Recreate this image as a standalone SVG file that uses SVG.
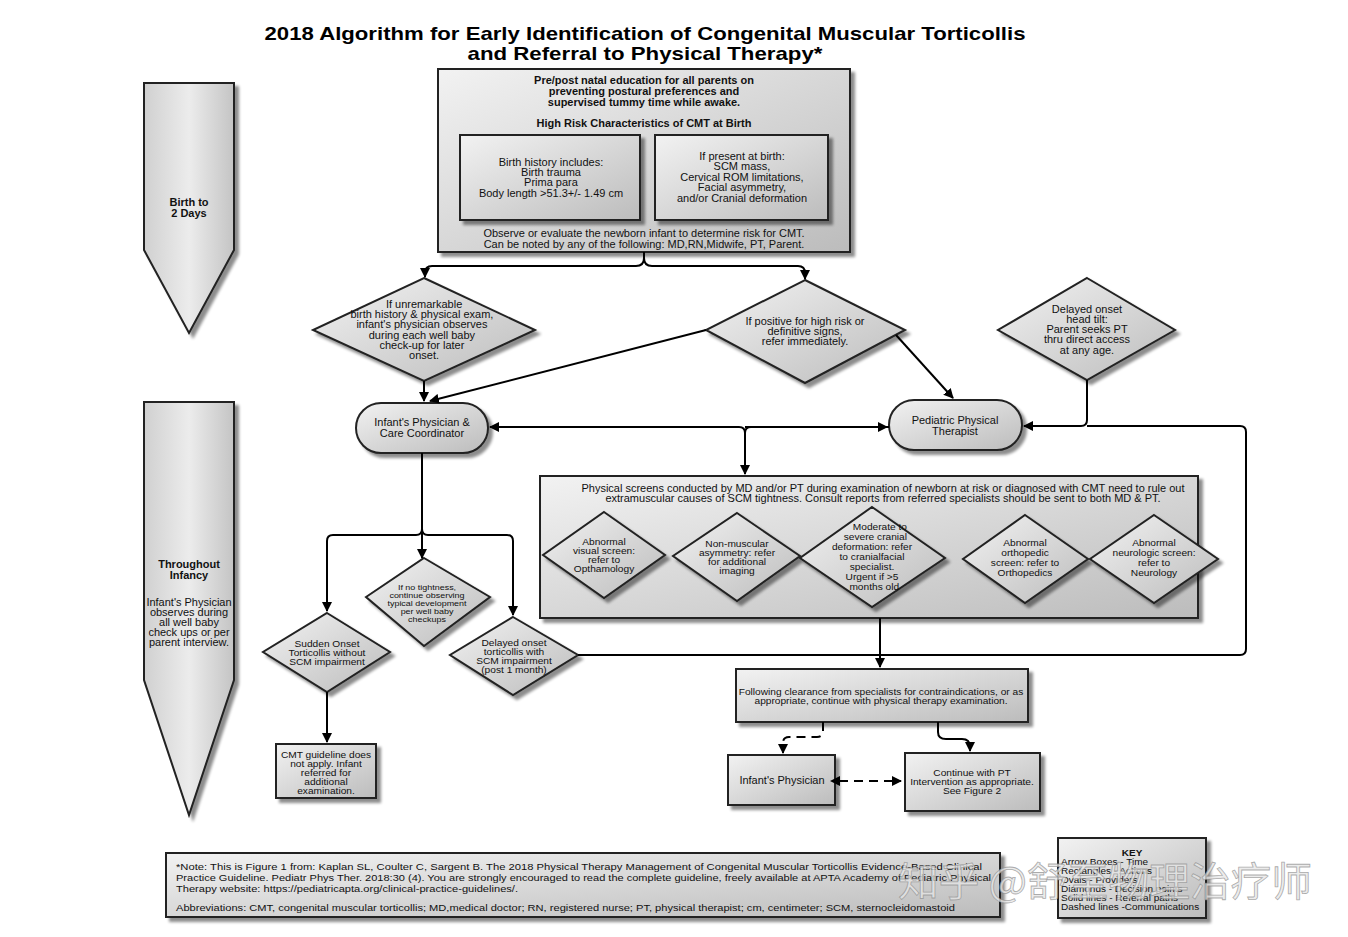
<svg xmlns="http://www.w3.org/2000/svg" width="1348" height="937" viewBox="0 0 1348 937">
<defs>
<linearGradient id="g" x1="0" y1="0" x2="1" y2="1">
<stop offset="0" stop-color="#f2f2f2"/>
<stop offset="1" stop-color="#bcbcbc"/>
</linearGradient>
<linearGradient id="ga" x1="0" y1="0" x2="1" y2="0">
<stop offset="0" stop-color="#d0d0d0"/>
<stop offset="0.5" stop-color="#ececec"/>
<stop offset="1" stop-color="#c4c4c4"/>
</linearGradient>
<filter id="sh" x="-10%" y="-10%" width="130%" height="130%">
<feGaussianBlur in="SourceAlpha" stdDeviation="1.5"/>
<feOffset dx="4" dy="4" result="o"/>
<feComponentTransfer><feFuncA type="linear" slope="0.45"/></feComponentTransfer>
<feMerge><feMergeNode/><feMergeNode in="SourceGraphic"/></feMerge>
</filter>
<marker id="ah" viewBox="0 0 10 10" refX="9" refY="5" markerWidth="5" markerHeight="5" orient="auto" markerUnits="strokeWidth">
<path d="M0,0 L10,5 L0,10 z" fill="#000"/>
</marker>
<marker id="as" viewBox="0 0 10 10" refX="1" refY="5" markerWidth="5" markerHeight="5" orient="auto-start-reverse" markerUnits="strokeWidth">
<path d="M0,0 L10,5 L0,10 z" fill="#000"/>
</marker>
</defs>
<style>
.s{fill:url(#g);stroke:#222;stroke-width:2;filter:url(#sh)}
.a{fill:url(#ga);stroke:#222;stroke-width:2;filter:url(#sh)}
.t{font-family:"Liberation Sans",Arial,sans-serif;font-size:10px;fill:#111;text-anchor:middle}
.b{font-weight:bold}
.sm{font-size:9px}
.xs{font-size:8px}
.k{font-size:9px}
.l{text-anchor:start}
.c{fill:none;stroke:#000;stroke-width:2;stroke-linejoin:round}
.d{stroke-dasharray:9,6}
.ttl{font-family:"Liberation Sans",Arial,sans-serif;font-weight:bold;font-size:19px;fill:#000;text-anchor:middle}
</style>
<rect width="1348" height="937" fill="#fff"/>

<g id="title">
<text class="ttl" x="645" y="40" textLength="761" lengthAdjust="spacingAndGlyphs">2018 Algorithm for Early Identification of Congenital Muscular Torticollis</text>
<text class="ttl" x="645" y="60" textLength="355" lengthAdjust="spacingAndGlyphs">and Referral to Physical Therapy*</text>
</g>

<g id="time-birth">
<path class="a" d="M144,83 H234 V250 L189,333 L144,250 Z"/>
<g transform="matrix(1.1,0,0,1,-18.9,0)">
<text class="t b" x="189" y="206">Birth to</text>
<text class="t b" x="189" y="217">2 Days</text>
</g>
</g>
<g id="time-infancy">
<path class="a" d="M144,402 H234 V680 L189,815 L144,680 Z"/>
<g transform="matrix(1.1,0,0,1,-18.9,0)">
<text class="t b" x="189" y="568">Throughout</text>
<text class="t b" x="189" y="579">Infancy</text>
<text class="t" x="189" y="606">Infant's Physician</text>
<text class="t" x="189" y="616">observes during</text>
<text class="t" x="189" y="626">all well baby</text>
<text class="t" x="189" y="636">check ups or per</text>
<text class="t" x="189" y="646">parent interview.</text>
</g>
</g>

<g id="top-box">
<rect class="s" x="438" y="69" width="412" height="183"/>
<g transform="matrix(1.1,0,0,1,-64.4,0)">
<text class="t b" x="644" y="84">Pre/post natal education for all parents on</text>
<text class="t b" x="644" y="95">preventing postural preferences and</text>
<text class="t b" x="644" y="106">supervised tummy time while awake.</text>
<text class="t b" x="644" y="127">High Risk Characteristics of CMT at Birth</text>
<text class="t" x="644" y="237">Observe or evaluate the newborn infant to determine risk for CMT.</text>
<text class="t" x="644" y="248">Can be noted by any of the following: MD,RN,Midwife, PT, Parent.</text>
</g>
</g>
<g id="birth-history">
<rect class="s" x="460" y="135" width="180" height="85"/>
<g transform="matrix(1.1,0,0,1,-55.1,0)">
<text class="t" x="551" y="166">Birth history includes:</text>
<text class="t" x="551" y="176">Birth trauma</text>
<text class="t" x="551" y="186">Prima para</text>
<text class="t" x="551" y="197">Body length &gt;51.3+/- 1.49 cm</text>
</g>
</g>
<g id="present-at-birth">
<rect class="s" x="655" y="135" width="173" height="85"/>
<g transform="matrix(1.1,0,0,1,-74.2,0)">
<text class="t" x="742" y="160">If present at birth:</text>
<text class="t" x="742" y="170">SCM mass,</text>
<text class="t" x="742" y="181">Cervical ROM limitations,</text>
<text class="t" x="742" y="191">Facial asymmetry,</text>
<text class="t" x="742" y="202">and/or Cranial deformation</text>
</g>
</g>

<g id="dia-unremarkable">
<path class="s" d="M424,278 L535,330 L424,381 L313,330 Z"/>
<g transform="matrix(1.1,0,0,1,-42.3,0)">
<text class="t" x="424" y="308">If unremarkable</text>
<text class="t" x="422" y="318">birth history &amp; physical exam,</text>
<text class="t" x="422" y="328">infant's physician observes</text>
<text class="t" x="422" y="339">during each well baby</text>
<text class="t" x="422" y="349">check-up for later</text>
<text class="t" x="424" y="359">onset.</text>
</g>
</g>
<g id="dia-positive">
<path class="s" d="M805,280 L905,330 L805,383 L706,330 Z"/>
<g transform="matrix(1.1,0,0,1,-80.5,0)">
<text class="t" x="805" y="325">If positive for high risk or</text>
<text class="t" x="805" y="335">definitive signs,</text>
<text class="t" x="805" y="345">refer immediately.</text>
</g>
</g>
<g id="dia-delayed-head">
<path class="s" d="M1087,278 L1175,330 L1087,380 L998,330 Z"/>
<g transform="matrix(1.1,0,0,1,-108.7,0)">
<text class="t" x="1087" y="313">Delayed onset</text>
<text class="t" x="1087" y="323">head tilt:</text>
<text class="t" x="1087" y="333">Parent seeks PT</text>
<text class="t" x="1087" y="343">thru direct access</text>
<text class="t" x="1087" y="354">at any age.</text>
</g>
</g>

<g id="oval-physician">
<rect class="s" x="356" y="403" width="132" height="50" rx="25"/>
<g transform="matrix(1.1,0,0,1,-42.2,0)">
<text class="t" x="422" y="426">Infant's Physician &amp;</text>
<text class="t" x="422" y="437">Care Coordinator</text>
</g>
</g>
<g id="oval-pt">
<rect class="s" x="889" y="400" width="133" height="50" rx="25"/>
<g transform="matrix(1.1,0,0,1,-95.5,0)">
<text class="t" x="955" y="424">Pediatric Physical</text>
<text class="t" x="955" y="435">Therapist</text>
</g>
</g>

<g id="screens-box">
<rect class="s" x="540" y="476" width="658" height="142"/>
<g transform="matrix(1.1,0,0,1,-88.3,0)">
<text class="t" x="883" y="492">Physical screens conducted by MD and/or PT during examination of newborn at risk or diagnosed with CMT need to rule out</text>
<text class="t" x="883" y="502">extramuscular causes of SCM tightness. Consult reports from referred specialists should be sent to both MD &amp; PT.</text>
</g>
</g>
<g id="dia-visual">
<path class="s" d="M604,512 L665,555 L604,598 L543,555 Z"/>
<g transform="matrix(1.13,0,0,1,-78.52,0)">
<text class="t sm" x="604" y="545">Abnormal</text>
<text class="t sm" x="604" y="554">visual screen:</text>
<text class="t sm" x="604" y="563">refer to</text>
<text class="t sm" x="604" y="572">Opthamology</text>
</g>
</g>
<g id="dia-nonmuscular">
<path class="s" d="M737,513 L800,556 L737,601 L673,556 Z"/>
<g transform="matrix(1.13,0,0,1,-95.81,0)">
<text class="t sm" x="737" y="547">Non-muscular</text>
<text class="t sm" x="737" y="556">asymmetry: refer</text>
<text class="t sm" x="737" y="565">for additional</text>
<text class="t sm" x="737" y="574">imaging</text>
</g>
</g>
<g id="dia-cranial">
<path class="s" d="M872,507 L945,558 L872,607 L800,558 Z"/>
<g transform="matrix(1.13,0,0,1,-113.36,0)">
<text class="t sm" x="879" y="530">Moderate to</text>
<text class="t sm" x="875" y="540">severe cranial</text>
<text class="t sm" x="872" y="550">deformation: refer</text>
<text class="t sm" x="872" y="560">to cranialfacial</text>
<text class="t sm" x="872" y="570">specialist.</text>
<text class="t sm" x="872" y="580">Urgent if &gt;5</text>
<text class="t sm" x="874" y="590">months old</text>
</g>
</g>
<g id="dia-ortho">
<path class="s" d="M1025,515 L1088,559 L1025,603 L963,559 Z"/>
<g transform="matrix(1.13,0,0,1,-133.25,0)">
<text class="t sm" x="1025" y="546">Abnormal</text>
<text class="t sm" x="1025" y="556">orthopedic</text>
<text class="t sm" x="1025" y="566">screen: refer to</text>
<text class="t sm" x="1025" y="576">Orthopedics</text>
</g>
</g>
<g id="dia-neuro">
<path class="s" d="M1154,515 L1218,559 L1154,603 L1090,559 Z"/>
<g transform="matrix(1.13,0,0,1,-150.02,0)">
<text class="t sm" x="1154" y="546">Abnormal</text>
<text class="t sm" x="1154" y="556">neurologic screen:</text>
<text class="t sm" x="1154" y="566">refer to</text>
<text class="t sm" x="1154" y="576">Neurology</text>
</g>
</g>

<g id="dia-no-tightness">
<path class="s" d="M424,558 L490,597 L424,646 L366,597 Z"/>
<g transform="matrix(1.12,0,0,1,-51.24,0)">
<text class="t xs" x="427" y="590">If no tightness,</text>
<text class="t xs" x="427" y="598">continue observing</text>
<text class="t xs" x="427" y="606">typical development</text>
<text class="t xs" x="427" y="614">per well baby</text>
<text class="t xs" x="427" y="622">checkups</text>
</g>
</g>
<g id="dia-sudden">
<path class="s" d="M327,613 L390,652 L327,692 L263,652 Z"/>
<g transform="matrix(1.13,0,0,1,-42.51,0)">
<text class="t sm" x="327" y="647">Sudden Onset</text>
<text class="t sm" x="327" y="656">Torticollis without</text>
<text class="t sm" x="327" y="665">SCM impairment</text>
</g>
</g>
<g id="dia-delayed-scm">
<path class="s" d="M513,617 L578,655 L513,695 L450,655 Z"/>
<g transform="matrix(1.13,0,0,1,-66.82,0)">
<text class="t sm" x="514" y="646">Delayed onset</text>
<text class="t sm" x="514" y="655">torticollis with</text>
<text class="t sm" x="514" y="664">SCM impairment</text>
<text class="t sm" x="514" y="673">(post 1 month)</text>
</g>
</g>
<g id="box-cmt-not-apply">
<rect class="s" x="276" y="744" width="100" height="54"/>
<g transform="matrix(1.13,0,0,1,-42.38,0)">
<text class="t sm" x="326" y="758">CMT guideline does</text>
<text class="t sm" x="326" y="767">not apply. Infant</text>
<text class="t sm" x="326" y="776">referred for</text>
<text class="t sm" x="326" y="785">additional</text>
<text class="t sm" x="326" y="794">examination.</text>
</g>
</g>

<g id="box-clearance">
<rect class="s" x="736" y="669" width="292" height="53"/>
<g transform="matrix(1.13,0,0,1,-114.53,0)">
<text class="t sm" x="881" y="695">Following clearance from specialists for contraindications, or as</text>
<text class="t sm" x="881" y="704">appropriate, continue with physical therapy examination.</text>
</g>
</g>
<g id="box-infant-physician">
<rect class="s" x="728" y="755" width="107" height="50"/>
<g transform="matrix(1.1,0,0,1,-78.2,0)">
<text class="t" x="782" y="784">Infant's Physician</text>
</g>
</g>
<g id="box-continue">
<rect class="s" x="905" y="753" width="135" height="58"/>
<g transform="matrix(1.13,0,0,1,-126.36,0)">
<text class="t sm" x="972" y="776">Continue  with PT</text>
<text class="t sm" x="972" y="785">Intervention as appropriate.</text>
<text class="t sm" x="972" y="794">See Figure 2</text>
</g>
</g>

<g id="note">
<rect class="s" x="166" y="853" width="834" height="64"/>
<text class="t l sm" x="176" y="870" textLength="806" lengthAdjust="spacingAndGlyphs">*Note: This is Figure 1 from: Kaplan SL, Coulter C, Sargent B. The 2018 Physical Therapy Management of Congenital Muscular Torticollis Evidence-Based Clinical</text>
<text class="t l sm" x="176" y="881" textLength="815" lengthAdjust="spacingAndGlyphs">Practice Guideline. Pediatr Phys Ther. 2018:30 (4). You are strongly encouraged to read the complete guideline, freely available at APTA Academy of Pediatric Physical</text>
<text class="t l sm" x="176" y="892" textLength="342" lengthAdjust="spacingAndGlyphs">Therapy website: https://pediatricapta.org/clinical-practice-guidelines/.</text>
<text class="t l sm" x="176" y="911" textLength="779" lengthAdjust="spacingAndGlyphs">Abbreviations: CMT, congenital muscular torticollis; MD,medical doctor; RN, registered nurse; PT, physical therapist; cm, centimeter; SCM, sternocleidomastoid</text>
</g>
<g id="key">
<rect class="s" x="1058" y="838" width="148" height="80"/>
<g transform="matrix(1.11,0,0,1,-116.71,0)">
<text class="t b k" x="1125" y="856">KEY</text>
<text class="t l k" x="1061" y="865">Arrow Boxes - Time</text>
<text class="t l k" x="1061" y="874">Rectangles - Actions</text>
<text class="t l k" x="1061" y="883">Ovals - Providers</text>
<text class="t l k" x="1061" y="892">Diamonds - Decision points</text>
<text class="t l k" x="1061" y="901">Solid lines - Referral paths</text>
<text class="t l k" x="1061" y="910">Dashed lines -Communications</text>
</g>
</g>

<g id="connectors">
<path class="c" d="M644,252 V258 Q644,266 636,266 H432 Q425,266 425,273 V277" marker-end="url(#ah)"/>
<path class="c" d="M644,258 Q644,266 652,266 H798 Q805,266 805,273 V279" marker-end="url(#ah)"/>
<path class="c" d="M424,381 V401" marker-end="url(#ah)"/>
<path class="c" d="M706,330 L430,401" marker-end="url(#ah)"/>
<path class="c" d="M896,335 L953,398" marker-end="url(#ah)"/>
<path class="c" d="M1087,380 V420 Q1087,426 1081,426 H1024" marker-end="url(#ah)"/>
<path class="c" d="M578,655 H1240 Q1246,655 1246,649 V432 Q1246,426 1240,426 H1087"/>
<path class="c" d="M889,427 H751 Q745,427 745,433 V474" marker-end="url(#ah)"/>
<path class="c" d="M745,433 Q745,427 739,427 H490" marker-end="url(#ah)"/>
<path class="c" d="M745,427 H887" marker-end="url(#ah)"/>
<path class="c" d="M422,453 V558" marker-end="url(#ah)"/>
<path class="c" d="M422,529 Q422,535 416,535 H333 Q327,535 327,541 V611" marker-end="url(#ah)"/>
<path class="c" d="M422,529 Q422,535 428,535 H507 Q513,535 513,541 V615" marker-end="url(#ah)"/>
<path class="c" d="M327,692 V742" marker-end="url(#ah)"/>
<path class="c" d="M880,618 V667" marker-end="url(#ah)"/>
<path class="c d" d="M823,722 V731 Q823,737 817,737 H789 Q783,737 783,743 V753" marker-end="url(#ah)"/>
<path class="c" d="M938,722 V732 Q938,739 946,739 H962 Q970,739 970,747 V751" marker-end="url(#ah)"/>
<path class="c d" d="M839,781 H901" marker-start="url(#as)" marker-end="url(#ah)"/>
</g>

<g id="watermark">
<text x="898" y="896" textLength="414" lengthAdjust="spacingAndGlyphs" style="font-family:'Noto Sans CJK SC',sans-serif;font-size:40px;fill:#e6e6e6;fill-opacity:0.75;stroke:#8a8a8a;stroke-width:0.8;stroke-opacity:0.7">知乎 @舒至物理治疗师</text>
</g>
</svg>
